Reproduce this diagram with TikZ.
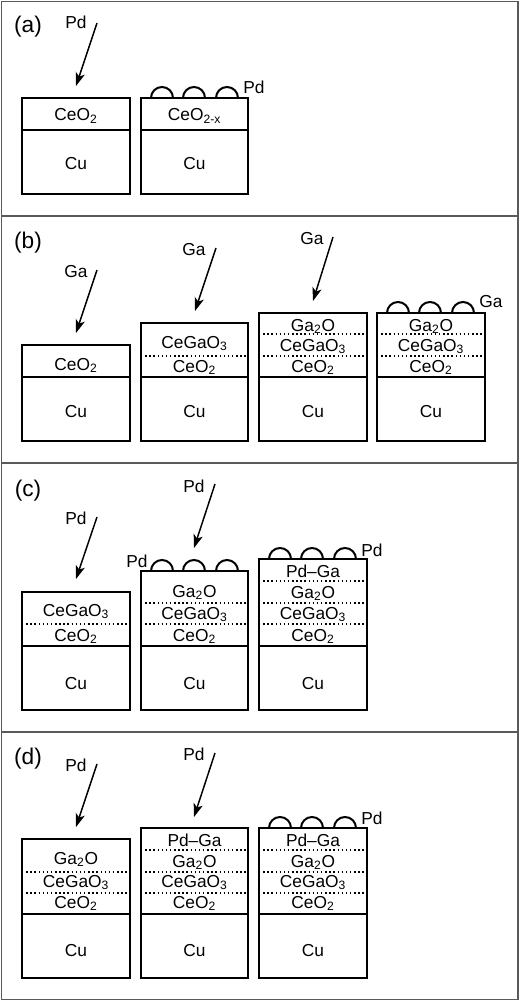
\documentclass[tikz,border=0pt]{standalone}
\usepackage{fontspec}
\setmainfont{Liberation Sans}
\usetikzlibrary{arrows.meta}
\tikzset{
  frame/.style={draw=black!65, line width=1.1pt},
  film/.style={line width=1.5pt},
  sep/.style={dotted, line width=1.1pt},
  lbl/.style={anchor=base, inner sep=0pt, font=\fontsize{13}{15}\selectfont},
  tag/.style={inner sep=0pt, font=\fontsize{17}{20}\selectfont},
  beam/.style={-{Stealth[length=10pt,width=7pt,inset=2.5pt]}, line width=1.1pt},
}
\begin{document}
\begin{tikzpicture}[x=0.75pt, y=-0.75pt]
        \useasboundingbox (0,0) rectangle (520,1002);
        \draw[frame] (1.5,1.5) rectangle (518,999.5);
        \draw[frame] (1.5,216) -- (518,216);
        \draw[frame] (1.5,463) -- (518,463);
        \draw[frame] (1.5,732) -- (518,732);

        \node[tag] (taga) at (28,27) {(a)};
        \node[lbl] (pda1) at (76,29) {Pd};
        \coordinate (sa1) at (97,23); \coordinate (ea1) at (76,86);
        \draw[beam] (sa1) -- (ea1);
        \draw[film] (22,98) rectangle (130,194); \draw[film] (22,130) -- (130,130);
        \node[lbl] (a1ce) at (76,121) {CeO\textsubscript{2}};
        \node[lbl] (a1cu) at (76,170) {Cu};
        \draw[film] (141,98) rectangle (248,194); \draw[film] (141,130) -- (248,130);
        \node[lbl] (a2ce) at (194.5,121) {CeO\textsubscript{2-x}};
        \node[lbl] (a2cu) at (194.5,170) {Cu};
        \foreach \c in {162,194,227} \draw[film] (\c-11,98) arc[start angle=180, end angle=360, radius=11];
        \node[lbl] (pda2) at (254,94) {Pd};

        \node[tag] (tagb) at (28,242.5) {(b)};
        \node[lbl] (gab1) at (76,277) {Ga};
        \node[lbl] (gab2) at (194,255) {Ga};
        \node[lbl] (gab3) at (312,244) {Ga};
        \coordinate (sb1) at (97,270); \coordinate (eb1) at (76,333);
        \coordinate (sb2) at (216,248); \coordinate (eb2) at (195,311);
        \coordinate (sb3) at (333,237); \coordinate (eb3) at (313,301);
        \draw[beam] (sb1) -- (eb1);
        \draw[beam] (sb2) -- (eb2);
        \draw[beam] (sb3) -- (eb3);
        \draw[film] (22,345) rectangle (130,441); \draw[film] (22,377) -- (130,377);
        \node[lbl] (b1ce) at (76,370) {CeO\textsubscript{2}};
        \node[lbl] (b1cu) at (76,417) {Cu};
        \draw[film] (141,323) rectangle (248,441); \draw[film] (141,377) -- (248,377);
        \draw[sep] (141,356) -- (248,356);
        \node[lbl] (b2cg) at (194.5,348) {CeGaO\textsubscript{3}};
        \node[lbl] (b2ce) at (194.5,372) {CeO\textsubscript{2}};
        \node[lbl] (b2cu) at (194.5,417) {Cu};
        \draw[film] (259,313) rectangle (367,441); \draw[film] (259,377) -- (367,377);
        \draw[sep] (259,334) -- (367,334); \draw[sep] (259,356) -- (367,356);
        \node[lbl] (b3go) at (313,331) {Ga\textsubscript{2}O};
        \node[lbl] (b3cg) at (313,351) {CeGaO\textsubscript{3}};
        \node[lbl] (b3ce) at (313,372) {CeO\textsubscript{2}};
        \node[lbl] (b3cu) at (313,417) {Cu};
        \draw[film] (377,313) rectangle (485,441); \draw[film] (377,377) -- (485,377);
        \draw[sep] (377,334) -- (485,334); \draw[sep] (377,356) -- (485,356);
        \node[lbl] (b4go) at (431,331) {Ga\textsubscript{2}O};
        \node[lbl] (b4cg) at (431,351) {CeGaO\textsubscript{3}};
        \node[lbl] (b4ce) at (431,372) {CeO\textsubscript{2}};
        \node[lbl] (b4cu) at (431,417) {Cu};
        \foreach \c in {398,430,463} \draw[film] (\c-11,313) arc[start angle=180, end angle=360, radius=11];
        \node[lbl] (gab4) at (491,307) {Ga};

        \node[tag] (tagc) at (28,491) {(c)};
        \node[lbl] (pdc1) at (76,524) {Pd};
        \node[lbl] (pdc2) at (194,492) {Pd};
        \coordinate (sc1) at (97,517); \coordinate (ec1) at (76,579);
        \coordinate (sc2) at (215,484); \coordinate (ec2) at (194,548);
        \draw[beam] (sc1) -- (ec1);
        \draw[beam] (sc2) -- (ec2);
        \draw[film] (22,592) rectangle (130,710); \draw[film] (22,646) -- (130,646);
        \draw[sep] (22,624) -- (130,624);
        \node[lbl] (c1cg) at (76,616) {CeGaO\textsubscript{3}};
        \node[lbl] (c1ce) at (76,641) {CeO\textsubscript{2}};
        \node[lbl] (c1cu) at (76,689) {Cu};
        \draw[film] (141,571) rectangle (248,710); \draw[film] (141,646) -- (248,646);
        \draw[sep] (141,603) -- (248,603); \draw[sep] (141,624) -- (248,624);
        \node[lbl] (c2go) at (194.5,597) {Ga\textsubscript{2}O};
        \node[lbl] (c2cg) at (194.5,619) {CeGaO\textsubscript{3}};
        \node[lbl] (c2ce) at (194.5,641) {CeO\textsubscript{2}};
        \node[lbl] (c2cu) at (194.5,689) {Cu};
        \foreach \c in {162,194,227} \draw[film] (\c-11,571) arc[start angle=180, end angle=360, radius=11];
        \node[lbl] (pdc3) at (137,567) {Pd};
        \draw[film] (259,559) rectangle (367,710); \draw[film] (259,646) -- (367,646);
        \draw[sep] (259,581) -- (367,581); \draw[sep] (259,603) -- (367,603); \draw[sep] (259,624) -- (367,624);
        \node[lbl] (c3pg) at (313,577) {Pd--Ga};
        \node[lbl] (c3go) at (313,598) {Ga\textsubscript{2}O};
        \node[lbl] (c3cg) at (313,619) {CeGaO\textsubscript{3}};
        \node[lbl] (c3ce) at (313,641) {CeO\textsubscript{2}};
        \node[lbl] (c3cu) at (313,689) {Cu};
        \foreach \c in {280,312,345} \draw[film] (\c-11,559) arc[start angle=180, end angle=360, radius=11];
        \node[lbl] (pdc4) at (372,556) {Pd};

        \node[tag] (tagd) at (28,759) {(d)};
        \node[lbl] (pdd1) at (76,771) {Pd};
        \node[lbl] (pdd2) at (194,760) {Pd};
        \coordinate (sd1) at (97,764); \coordinate (ed1) at (76,827);
        \coordinate (sd2) at (215,753); \coordinate (ed2) at (194,817);
        \draw[beam] (sd1) -- (ed1);
        \draw[beam] (sd2) -- (ed2);
        \draw[film] (22,839) rectangle (130,978); \draw[film] (22,914) -- (130,914);
        \draw[sep] (22,872) -- (130,872); \draw[sep] (22,893) -- (130,893);
        \node[lbl] (d1go) at (76,864) {Ga\textsubscript{2}O};
        \node[lbl] (d1cg) at (76,887) {CeGaO\textsubscript{3}};
        \node[lbl] (d1ce) at (76,908) {CeO\textsubscript{2}};
        \node[lbl] (d1cu) at (76,956) {Cu};
        \draw[film] (141,828) rectangle (248,978); \draw[film] (141,914) -- (248,914);
        \draw[sep] (141,850) -- (248,850); \draw[sep] (141,872) -- (248,872); \draw[sep] (141,893) -- (248,893);
        \node[lbl] (d2pg) at (194.5,846) {Pd--Ga};
        \node[lbl] (d2go) at (194.5,867) {Ga\textsubscript{2}O};
        \node[lbl] (d2cg) at (194.5,887) {CeGaO\textsubscript{3}};
        \node[lbl] (d2ce) at (194.5,908) {CeO\textsubscript{2}};
        \node[lbl] (d2cu) at (194.5,956) {Cu};
        \draw[film] (259,828) rectangle (367,978); \draw[film] (259,914) -- (367,914);
        \draw[sep] (259,850) -- (367,850); \draw[sep] (259,872) -- (367,872); \draw[sep] (259,893) -- (367,893);
        \node[lbl] (d3pg) at (313,846) {Pd--Ga};
        \node[lbl] (d3go) at (313,867) {Ga\textsubscript{2}O};
        \node[lbl] (d3cg) at (313,887) {CeGaO\textsubscript{3}};
        \node[lbl] (d3ce) at (313,908) {CeO\textsubscript{2}};
        \node[lbl] (d3cu) at (313,956) {Cu};
        \foreach \c in {280,312,345} \draw[film] (\c-11,828) arc[start angle=180, end angle=360, radius=11];
        \node[lbl] (pdd3) at (372,824) {Pd};
    \end{tikzpicture}
\end{document}
